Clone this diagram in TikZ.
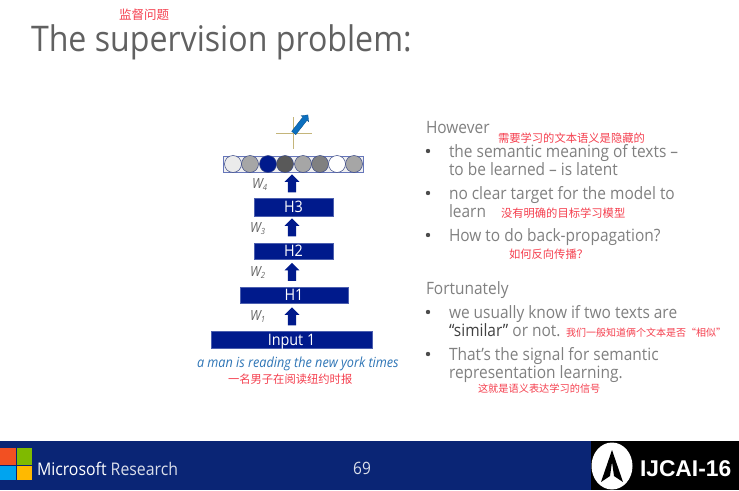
\documentclass[tikz,border=0pt]{standalone}
\usepackage{fontspec}
\setmainfont[FakeStretch=0.91]{Open Sans}
\newfontfamily\cjk{Noto Sans CJK SC}
\newfontfamily\logofont{Liberation Sans}
\usetikzlibrary{shapes.arrows}
\definecolor{navy}{HTML}{001A8C}
\definecolor{barblue}{HTML}{0A2575}
\definecolor{bodygray}{HTML}{808080}
\definecolor{notered}{HTML}{F5404F}
\definecolor{linkblue}{HTML}{2E75B6}
\definecolor{tanline}{HTML}{C4B57A}
\definecolor{vecblue}{HTML}{0B6FBF}
\definecolor{msred}{HTML}{F25022}
\definecolor{msgreen}{HTML}{7FBA00}
\definecolor{msblue}{HTML}{00A4EF}
\definecolor{msyellow}{HTML}{FFB900}
\tikzset{
  every node/.style={inner sep=0pt,outer sep=0pt},
  layerbox/.style={fill=navy,draw=navy!70!white,line width=.4pt,text=white,text height=11pt,text depth=0pt,font=\fontsize{15.8}{16}\selectfont,anchor=center},
  unit/.style={circle,draw=navy!55!gray,line width=.5pt,minimum size=17pt},
  upshaft/.style={single arrow,fill=navy,rotate=90,minimum height=18pt,single arrow head extend=3.2pt,single arrow tip angle=90,inner sep=0pt},
  body/.style={anchor=base west,text=bodygray,font=\fontsize{17}{17}\selectfont},
  bul/.style={circle,fill=black!70,minimum size=4.4pt},
  note/.style={anchor=west,text=notered,font=\cjk\fontsize{11.3}{12}\selectfont},
  wlab/.style={anchor=base west,text=black!60,font=\itshape\fontsize{14}{14}\selectfont},
}
\newcommand{\wsub}[1]{W\raisebox{-2.5pt}{\fontsize{8.5}{8}\selectfont #1}}
\newcommand{\shaftbox}{\phantom{\rule{10pt}{8pt}}}
\begin{document}
\begin{tikzpicture}[x=1pt,y=-1pt]
\useasboundingbox (0,0) rectangle (739,490);
\fill[white] (0,0) rectangle (739,490);
% title
\node[anchor=base west,text=black!62,font=\fontsize{35.3}{36}\selectfont] (title) at (31,51) {The supervision problem:};
\node[note,font=\cjk\fontsize{12.5}{13}\selectfont] (titlecn) at (119,15) {监督问题};
% crosshair and vector
\coordinate (ch-l) at (276,133); \coordinate (ch-r) at (312,133);
\coordinate (ch-t) at (293,117); \coordinate (ch-b) at (293,149);
\draw[color=tanline,line width=.7pt] (ch-l) -- (ch-r) (ch-t) -- (ch-b);
\node[single arrow,fill=vecblue,draw=vecblue!70!black,line width=.3pt,rotate=52,minimum height=23pt,single arrow head extend=2.2pt,single arrow tip angle=90] (vec) at (300,125) {\phantom{\rule{12pt}{5pt}}};
% output layer
\node[draw=navy!60!white,fill=gray!12,line width=.6pt,minimum width=140pt,minimum height=16pt] (out) at (293,164) {};
\foreach \n/\cx/\col in {1/233/black!8,2/250/black!35,3/268/navy,4/285/black!65,5/303/black!35,6/320/black!50,7/337/white,8/354/black!35}
  \node[unit,fill=\col] (u\n) at (\cx,164) {};
% hidden layers
\node[layerbox,minimum width=79pt,minimum height=18pt] (h3) at (293.5,207) {H3};
\node[layerbox,minimum width=79pt,minimum height=16pt] (h2) at (293.5,251) {H2};
\node[layerbox,minimum width=108pt,minimum height=16pt] (h1) at (294,295) {H1};
\node[layerbox,minimum width=161pt,minimum height=17pt] (in) at (291.5,339.5) {Input 1};
% block arrows
\node[upshaft] (a4) at (292,185.5) {\shaftbox};
\node[upshaft] (a3) at (292,229.5) {\shaftbox};
\node[upshaft] (a2) at (292,274) {\shaftbox};
\node[upshaft] (a1) at (292,318.5) {\shaftbox};
% weights
\node[wlab] (w4) at (252,188) {\wsub{4}};
\node[wlab] (w3) at (250,232) {\wsub{3}};
\node[wlab] (w2) at (250,276) {\wsub{2}};
\node[wlab] (w1) at (250,320) {\wsub{1}};
% input caption
\node[anchor=base west,text=linkblue,font=\itshape\fontsize{13.9}{14}\selectfont] (cap) at (197,367) {a man is reading the new york times};
\node[note] (capcn) at (228,379) {一名男子在阅读纽约时报};
% right column
\node[body] (however) at (426,133) {However};
\node[note] (n1) at (498,138) {需要学习的文本语义是隐藏的};
\node[bul] (b1) at (428,151) {};
\node[body] (t1) at (449,157) {the semantic meaning of texts –};
\node[body] (t1b) at (449,175) {to be learned – is latent};
\node[bul] (b2) at (428,193) {};
\node[body] (t2) at (449,199) {no clear target for the model to};
\node[body] (t2b) at (449,217) {learn};
\node[note] (n2) at (501,213) {没有明确的目标学习模型};
\node[bul] (b3) at (428,235) {};
\node[body] (t3) at (449,241) {How to do back-propagation?};
\node[note] (n3) at (509,254) {如何反向传播？};
\node[body] (fort) at (426,294) {Fortunately};
\node[bul] (b4) at (428,312) {};
\node[body] (t4) at (449,318) {we usually know if two texts are};
\node[body] (t4b) at (449,336) {\textcolor{black!75}{“similar”} or not.};
\node[note,font=\cjk\fontsize{10}{11}\selectfont] (n4) at (566,333) {我们一般知道俩个文本是否“相似”};
\node[bul] (b5) at (428,354) {};
\node[body] (t5) at (449,360) {That’s the signal for semantic};
\node[body] (t5b) at (449,378) {representation learning.};
\node[note,font=\cjk\fontsize{10.2}{11}\selectfont] (n5) at (478,389) {这就是语义表达学习的信号};
% footer
\fill[barblue] (0,441) rectangle (739,490);
\fill[msred] (0,448) rectangle (15.5,464.5);
\fill[msgreen] (16.5,448) rectangle (32,464.5);
\fill[msblue] (0,465.5) rectangle (15.5,480);
\fill[msyellow] (16.5,465.5) rectangle (32,480);
\node[anchor=base west,text=white,font=\fontsize{17.4}{17}\selectfont] (ms) at (37,475) {Microsoft \textcolor{white!85!barblue}{Research}};
\node[anchor=center,text=white!85!barblue,font=\fontsize{17}{17}\selectfont] (page) at (362,468) {69};
\fill[black] (591,441) rectangle (739,490);
\fill[white] (612,466) ellipse (20.5 and 23.5);
\fill[black] (612,450) -- (623,482) -- (614,476) -- (612,462) -- (610,476) -- (601,482) -- cycle;
\node[anchor=base west,text=white,font=\logofont\bfseries\fontsize{22.8}{24}\selectfont] (ijcai) at (640,476) {IJCAI-16};
\end{tikzpicture}
\end{document}
